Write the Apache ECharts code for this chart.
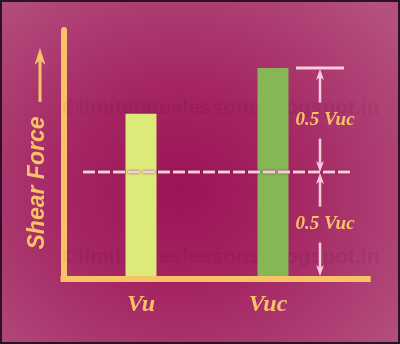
<!DOCTYPE html>
<html>
<head>
<meta charset="utf-8">
<script src="https://cdn.jsdelivr.net/npm/echarts@6/dist/echarts.min.js"></script>
<style>
html,body{margin:0;padding:0;}
#wrap{position:relative;width:400px;height:344px;
  background: radial-gradient(ellipse 70% 75% at 45% 55%, #9c1456 0%, #a42562 40%, #b4507f 100%);}
#chart{position:absolute;left:0;top:0;width:400px;height:344px;}
#frame{position:absolute;left:0;top:0;width:400px;height:344px;box-sizing:border-box;border:2px solid #2a1422;pointer-events:none;}
</style>
</head>
<body>
<div id="wrap"><div id="chart"></div><div id="frame"></div></div>
<script>
// ---- data ----
const categories = ['Vu', 'Vuc'];
const shearForce = [78, 100];
const halfShare = 0.5;
const halfValue = shearForce[1] * halfShare;
const annotationLabels = ['0.5 Vuc', '0.5 Vuc'];
const axisTitle = 'Shear Force';
const watermark = '\u00A9limitstateslessons.blogspot.in';
const yMin = -1.44, yMax = 118.27;

const orange = '#f9c26a';
const pink = '#f8ccd9';

const chart = echarts.init(document.getElementById('chart'), null, {renderer: 'canvas'});

const vTop = 30, vBottom = 65;
function hiddenY(idx) {
  return {type: 'value', gridIndex: idx, min: yMin, max: yMax, show: false};
}
function hiddenCat(idx) {
  return {type: 'category', gridIndex: idx, data: ['', ''], boundaryGap: false, show: false};
}

const annotationData = [
  [0, halfValue, shearForce[1], annotationLabels[0]],
  [0, 0, halfValue, annotationLabels[1]]
];

function arrowHead(x, y, dir) {
  return [[x, y], [x - 4, y - dir * 11], [x, y - dir * 8], [x + 4, y - dir * 11]];
}

const wmStyle = {text: watermark, fontFamily: 'Liberation Sans', fontWeight: 'bold', fontSize: 21,
  fill: 'rgba(70,0,30,0.09)', align: 'left', verticalAlign: 'middle', textAlign: 'left', textVerticalAlign: 'middle'};

chart.setOption({
  backgroundColor: 'transparent',
  animation: false,
  grid: [
    {left: 75, width: 264, top: vTop, bottom: vBottom},
    {left: 63.5, right: 32.3, top: vTop, bottom: vBottom},
    {left: 83, right: 47, top: vTop, bottom: vBottom},
    {left: 296, right: 56, top: vTop, bottom: vBottom}
  ],
  xAxis: [
    {type: 'category', gridIndex: 0, data: [
        {value: categories[0]},
        {value: categories[1], textStyle: {padding: [0, 10, 0, 0]}}
      ],
      axisLine: {show: false}, axisTick: {show: false}, splitLine: {show: false},
      axisLabel: {color: orange, fontFamily: 'Liberation Serif', fontStyle: 'italic', fontWeight: 'bold', fontSize: 24, margin: 14}
    },
    {type: 'value', gridIndex: 1, min: 0, max: 1, position: 'bottom',
      axisLine: {show: true, onZero: false, lineStyle: {color: orange, width: 6, cap: 'square'}},
      axisTick: {show: false}, axisLabel: {show: false}, splitLine: {show: false}
    },
    hiddenCat(2),
    hiddenCat(3)
  ],
  yAxis: [
    hiddenY(0),
    {type: 'value', gridIndex: 1, min: yMin, max: yMax,
      axisLine: {show: true, onZero: false, lineStyle: {color: orange, width: 6}},
      axisTick: {show: false}, axisLabel: {show: false}, splitLine: {show: false}
    },
    hiddenY(2),
    hiddenY(3)
  ],
  graphic: [
    {type: 'text', z: 1, x: 63, y: 108, silent: true, style: Object.assign({}, wmStyle)},
    {type: 'text', z: 1, x: 63, y: 257, silent: true, style: Object.assign({}, wmStyle)},
    {type: 'text', x: 38, y: 183, rotation: Math.PI / 2,
      style: {text: axisTitle, fontFamily: 'Liberation Sans', fontStyle: 'italic', fontWeight: 'bold', fontSize: 23,
        fill: orange, align: 'center', verticalAlign: 'middle', textAlign: 'center', textVerticalAlign: 'middle'}},
    {type: 'line', shape: {x1: 40, y1: 102, x2: 40, y2: 58}, style: {stroke: orange, lineWidth: 3}},
    {type: 'polygon', shape: {points: [[40, 48], [34.5, 65], [40, 60], [45.5, 65]]}, style: {fill: orange}}
  ],
  series: [
    {type: 'bar', xAxisIndex: 0, yAxisIndex: 0, barWidth: 31, z: 3,
      data: [
        {value: shearForce[0], itemStyle: {color: '#dcea7a'}},
        {value: shearForce[1], itemStyle: {color: '#86b656'}}
      ]
    },
    {type: 'line', xAxisIndex: 1, yAxisIndex: 1, data: [], silent: true},
    {type: 'line', xAxisIndex: 2, yAxisIndex: 2, symbol: 'none', silent: true, z: 4,
      data: [halfValue, halfValue],
      lineStyle: {color: pink, width: 3, type: [12, 3], shadowColor: 'rgba(90,0,40,0.7)', shadowBlur: 2}
    },
    {type: 'line', xAxisIndex: 3, yAxisIndex: 3, symbol: 'none', silent: true, z: 4,
      data: [shearForce[1], shearForce[1]],
      lineStyle: {color: pink, width: 3}
    },
    {type: 'custom', xAxisIndex: 3, yAxisIndex: 3, silent: true, z: 5,
      encode: {x: 0, y: [1, 2]},
      data: annotationData,
      renderItem: function (params, api) {
        const lo = api.value(1), hi = api.value(2);
        const label = annotationData[params.dataIndex][3];
        const pA = api.coord([0, hi]);
        const pB = api.coord([1, hi]);
        const x = (pA[0] + pB[0]) / 2;
        const yTop = pA[1] + 1;
        const yBot = api.coord([0, lo])[1];
        const yMid = (yTop + yBot) / 2;
        const gap = 18;
        const ls = {stroke: pink, lineWidth: 2.5};
        return {type: 'group', children: [
          {type: 'line', shape: {x1: x, y1: yTop + 8, x2: x, y2: yMid - gap}, style: ls},
          {type: 'line', shape: {x1: x, y1: yMid + gap, x2: x, y2: yBot - 8}, style: ls},
          {type: 'polygon', shape: {points: arrowHead(x, yTop, -1)}, style: {fill: pink}},
          {type: 'polygon', shape: {points: arrowHead(x, yBot, 1)}, style: {fill: pink}},
          {type: 'text', style: {text: label, x: x + 5, y: yMid,
            font: 'italic bold 19px "Liberation Serif", serif', fill: orange,
            align: 'center', verticalAlign: 'middle', textAlign: 'center', textVerticalAlign: 'middle'}}
        ]};
      }
    }
  ]
});
</script>
</body>
</html>
